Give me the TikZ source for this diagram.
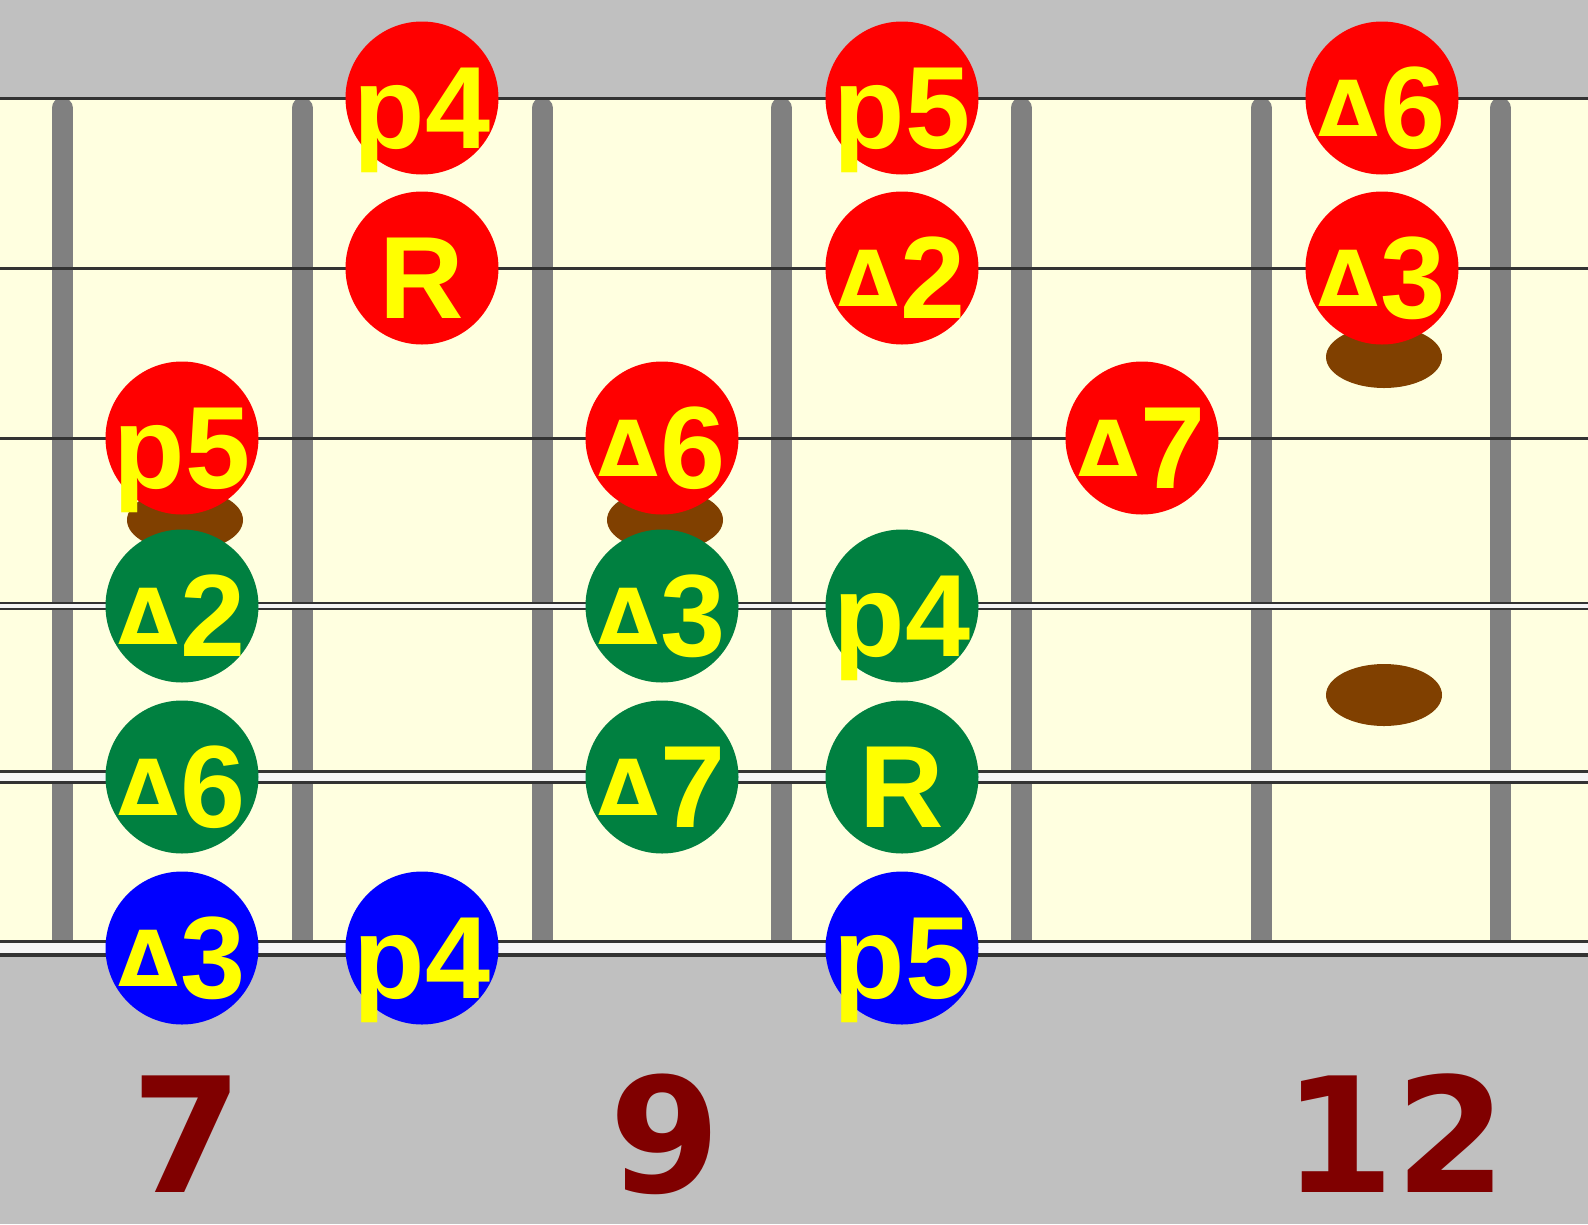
\documentclass[tikz,border=0pt]{standalone}
\usepackage{fontspec}
\setmainfont{Liberation Sans}
\newfontfamily\numfont{DejaVu Sans}
\usepackage{tikz}
\usetikzlibrary{shapes.geometric}

\definecolor{bggrey}{RGB}{192,192,192}
\definecolor{board}{RGB}{255,255,224}
\definecolor{fretgrey}{RGB}{128,128,128}
\definecolor{strdark}{RGB}{51,51,51}
\definecolor{strlight}{RGB}{245,245,245}
\definecolor{dotbrown}{RGB}{128,64,0}
\definecolor{notered}{RGB}{255,0,0}
\definecolor{notegreen}{RGB}{0,128,64}
\definecolor{noteblue}{RGB}{0,0,255}
\definecolor{notetext}{RGB}{255,255,0}
\definecolor{numred}{RGB}{128,0,0}

\newcommand{\intv}[1]{\raisebox{-50pt}[0pt][0pt]{#1}}
\newcommand{\tri}{\raisebox{12pt}{\scalebox{0.66}[0.66]{\numfont Δ}}\kern3pt}

\begin{document}
\begin{tikzpicture}[x=1pt, y=-1pt,
	note/.style={circle, fill=#1, minimum size=153pt, inner sep=0pt, text=notetext, font=\bfseries\fontsize{117}{117}\selectfont},
	fretbar/.style={draw=fretgrey, line width=21pt, line cap=round},
	thinstr/.style={draw=strdark, line width=3pt},
	woundstr/.style={draw=strdark, double=strlight, line width=3pt, double distance=#1},
	inlay/.style={ellipse, fill=dotbrown, minimum width=116pt, minimum height=62pt, inner sep=0pt},
	fretnum/.style={anchor=base, inner sep=0pt, text=numred, text depth=0pt, font=\numfont\bfseries\fontsize{160}{160}\selectfont}]
					\useasboundingbox (0,0) rectangle (1588,1224);
					
					% Sfondo e tastiera
					\fill[bggrey] (0,0) rectangle (1588,1224);
					\fill[board] (0,98) rectangle (1588,948);
					
					% Tasti
					\draw[fretbar] (62,108) -- (62,940);
					\draw[fretbar] (302,108) -- (302,940);
					\draw[fretbar] (542,108) -- (542,940);
					\draw[fretbar] (781,108) -- (781,940);
					\draw[fretbar] (1021,108) -- (1021,940);
					\draw[fretbar] (1261,108) -- (1261,940);
					\draw[fretbar] (1500,108) -- (1500,940);
					
					% Corde
					\draw[thinstr] (0,98) -- (1588,98);
					\draw[thinstr] (0,268) -- (1588,268);
					\draw[thinstr] (0,438) -- (1588,438);
					\draw[woundstr=3.5pt, line width=2.5pt] (0,606) -- (1588,606);
					\draw[woundstr=8pt] (0,777) -- (1588,777);
					\draw[woundstr=10pt, line width=3.5pt] (0,948) -- (1588,948);
					
					% Segnatasti
					\node[inlay] (dot7) at (185,520) {};
					\node[inlay] (dot9) at (665,520) {};
					\node[inlay] (dot12a) at (1384,357) {};
					\node[inlay] (dot12b) at (1384,695) {};
					
					% Prima e seconda corda
					\node[note=notered] (s1f8) at (422,98) {\intv{p4}};
					\node[note=notered] (s1f10) at (902,98) {\intv{p5}};
					\node[note=notered] (s1f12) at (1382,98) {\intv{\tri6}};
					\node[note=notered] (s2f8) at (422,268) {\intv{R}};
					\node[note=notered] (s2f10) at (902,268) {\intv{\tri2}};
					\node[note=notered] (s2f12) at (1382,268) {\intv{\tri3}};
					
					% Terza corda
					\node[note=notered] (s3f7) at (182,438) {\intv{p5}};
					\node[note=notered] (s3f9) at (662,438) {\intv{\tri6}};
					\node[note=notered] (s3f11) at (1142,438) {\intv{\tri7}};
					
					% Quarta e quinta corda
					\node[note=notegreen] (s4f7) at (182,606) {\intv{\tri2}};
					\node[note=notegreen] (s4f9) at (662,606) {\intv{\tri3}};
					\node[note=notegreen] (s4f10) at (902,606) {\intv{p4}};
					\node[note=notegreen] (s5f7) at (182,777) {\intv{\tri6}};
					\node[note=notegreen] (s5f9) at (662,777) {\intv{\tri7}};
					\node[note=notegreen] (s5f10) at (902,777) {\intv{R}};
					
					% Sesta corda
					\node[note=noteblue] (s6f7) at (182,948) {\intv{\tri3}};
					\node[note=noteblue] (s6f8) at (422,948) {\intv{p4}};
					\node[note=noteblue] (s6f10) at (902,948) {\intv{p5}};
					
					% Numeri dei tasti
					\node[fretnum] (n7) at (187,1192) {7};
					\node[fretnum] (n9) at (665,1192) {9};
					\node[fretnum] (n12) at (1395,1192) {12};
				\end{tikzpicture}
\end{document}
